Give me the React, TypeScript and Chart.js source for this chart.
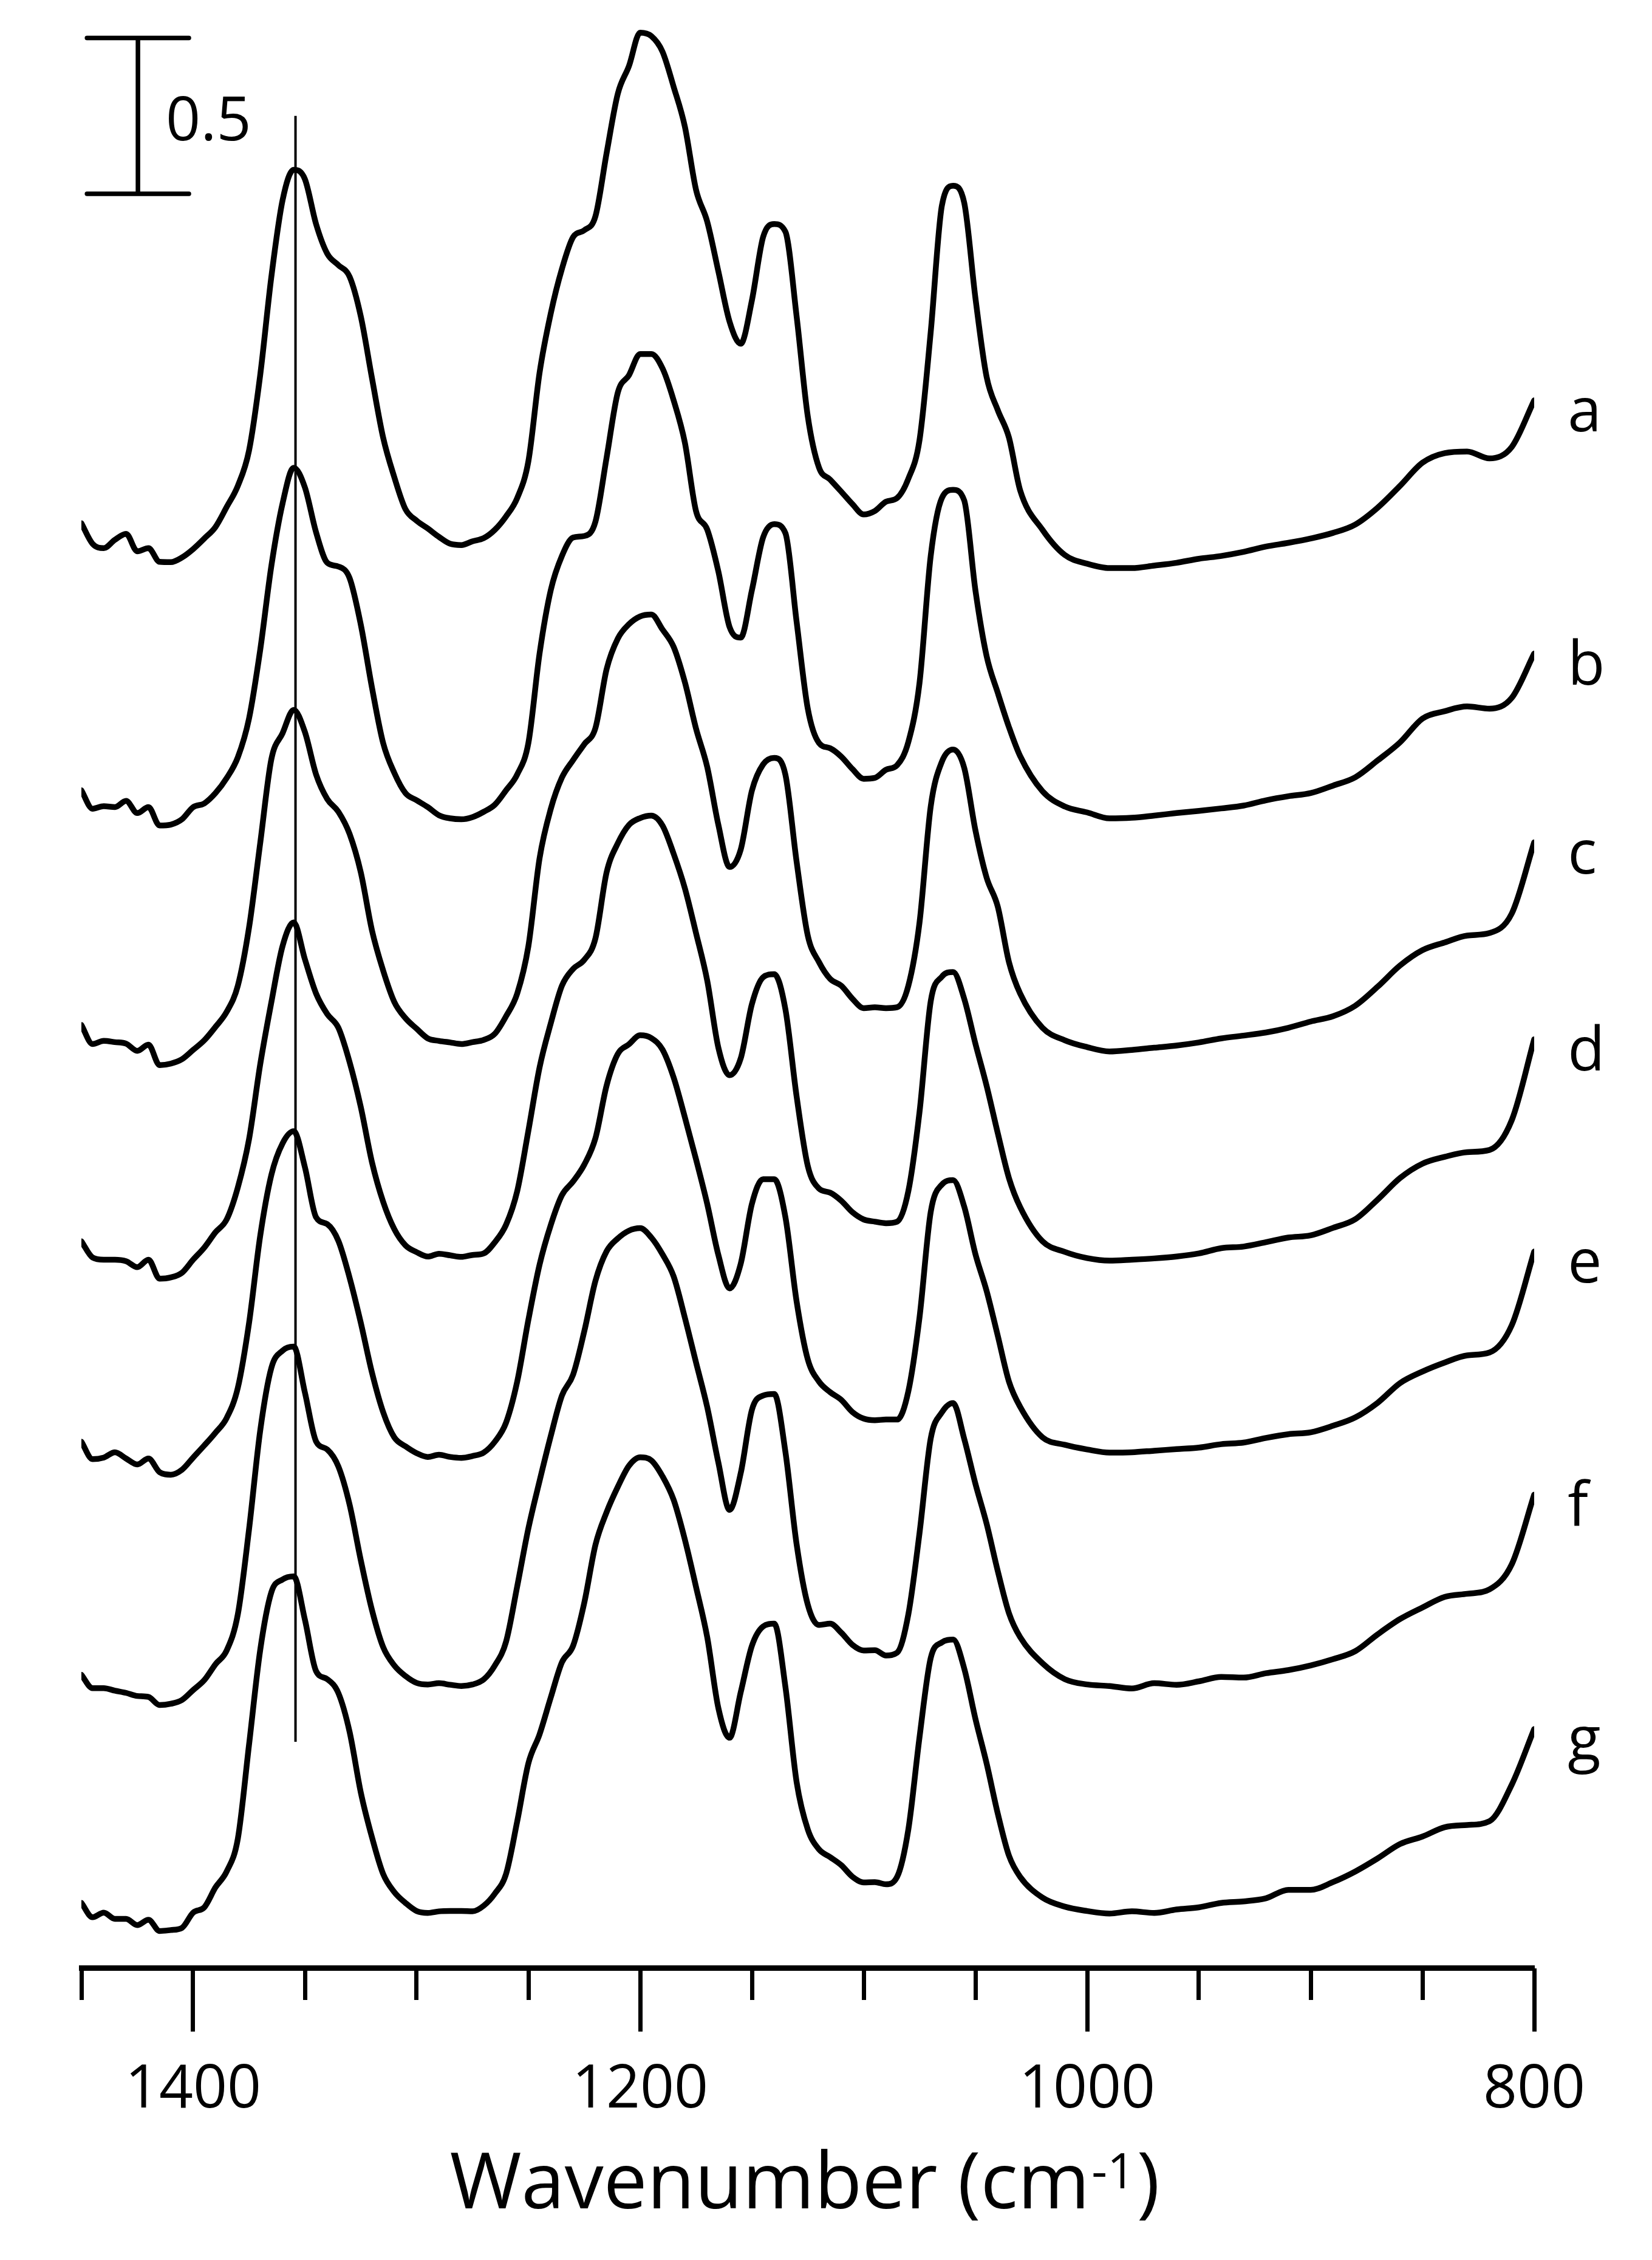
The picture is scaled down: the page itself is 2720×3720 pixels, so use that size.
import { useEffect, useRef } from "react";
import { Chart, registerables } from "chart.js";

Chart.register(...registerables);

const FONT = "'Open Sans', 'Noto Sans', sans-serif";

// Wavenumber grid (cm^-1)
const WAVENUMBERS = [
  1450, 1445, 1440, 1435, 1430, 1425, 1420, 1415, 1410, 1405,
  1400, 1395, 1390, 1385, 1380, 1375, 1370, 1365, 1360, 1355,
  1350, 1345, 1340, 1335, 1330, 1325, 1320, 1315, 1310, 1305,
  1300, 1295, 1290, 1285, 1280, 1275, 1270, 1265, 1260, 1255,
  1250, 1245, 1240, 1235, 1230, 1225, 1220, 1215, 1210, 1205,
  1200, 1195, 1190, 1185, 1180, 1175, 1170, 1165, 1160, 1155,
  1150, 1145, 1140, 1135, 1130, 1125, 1120, 1115, 1110, 1105,
  1100, 1095, 1090, 1085, 1080, 1075, 1070, 1065, 1060, 1055,
  1050, 1045, 1040, 1035, 1030,
  1020, 1010, 1000, 990, 980, 970, 960, 950, 940, 930,
  920, 910, 900, 890, 880, 870, 860, 850, 840, 830,
  820, 810, 800,
];

const TRACE_A = [
  0.237, 0.171, 0.157, 0.184, 0.203, 0.147, 0.157, 0.113, 0.112, 0.127,
  0.154, 0.188, 0.225, 0.289, 0.357, 0.470, 0.712, 1.028, 1.273, 1.371,
  1.341, 1.197, 1.102, 1.065, 1.028, 0.901, 0.703, 0.512, 0.385, 0.282,
  0.245, 0.220, 0.193, 0.171, 0.167, 0.179, 0.189, 0.216, 0.259, 0.318,
  0.436, 0.720, 0.910, 1.053, 1.155, 1.177, 1.222, 1.425, 1.615, 1.704,
  1.811, 1.800, 1.750, 1.637, 1.510, 1.307, 1.205, 1.045, 0.884, 0.813,
  0.952, 1.155, 1.197, 1.172, 0.901, 0.580, 0.416, 0.377, 0.338, 0.298,
  0.265, 0.276, 0.306, 0.318, 0.380, 0.504, 0.850, 1.256, 1.320, 1.265,
  0.960, 0.707, 0.600, 0.512, 0.343,
  0.216, 0.135, 0.107, 0.093, 0.093, 0.101, 0.110, 0.123, 0.132, 0.145,
  0.162, 0.174, 0.188, 0.206, 0.233, 0.287, 0.357, 0.431, 0.462, 0.467,
  0.445, 0.482, 0.631,
];

const TRACE_B = [
  0.230, 0.171, 0.179, 0.176, 0.196, 0.157, 0.176, 0.117, 0.120, 0.137,
  0.176, 0.188, 0.221, 0.269, 0.336, 0.460, 0.680, 0.950, 1.150, 1.265,
  1.202, 1.058, 0.960, 0.948, 0.911, 0.762, 0.560, 0.382, 0.286, 0.221,
  0.198, 0.176, 0.150, 0.140, 0.137, 0.144, 0.161, 0.184, 0.230, 0.281,
  0.382, 0.669, 0.872, 0.982, 1.041, 1.046, 1.092, 1.298, 1.506, 1.562,
  1.630, 1.630, 1.584, 1.481, 1.346, 1.126, 1.067, 0.932, 0.754, 0.720,
  0.872, 1.041, 1.084, 1.055, 0.771, 0.492, 0.382, 0.365, 0.338, 0.298,
  0.267, 0.270, 0.296, 0.311, 0.385, 0.575, 0.982, 1.168, 1.194, 1.160,
  0.872, 0.661, 0.543, 0.433, 0.340,
  0.227, 0.178, 0.159, 0.140, 0.142, 0.149, 0.157, 0.164, 0.172, 0.181,
  0.198, 0.211, 0.221, 0.245, 0.272, 0.326, 0.384, 0.460, 0.484, 0.499,
  0.492, 0.527, 0.669,
];

const TRACE_C = [
  0.227, 0.166, 0.176, 0.172, 0.167, 0.144, 0.164, 0.098, 0.103, 0.117,
  0.147, 0.178, 0.221, 0.269, 0.353, 0.539, 0.810, 1.080, 1.163, 1.238,
  1.167, 1.031, 0.952, 0.911, 0.840, 0.717, 0.531, 0.402, 0.301, 0.249,
  0.215, 0.184, 0.176, 0.171, 0.166, 0.172, 0.179, 0.199, 0.255, 0.328,
  0.480, 0.762, 0.920, 1.021, 1.077, 1.128, 1.180, 1.369, 1.467, 1.513,
  1.538, 1.544, 1.496, 1.440, 1.327, 1.178, 1.055, 0.869, 0.734, 0.790,
  0.979, 1.063, 1.084, 1.030, 0.751, 0.514, 0.429, 0.375, 0.353, 0.311,
  0.281, 0.284, 0.281, 0.284, 0.353, 0.556, 0.928, 1.072, 1.111, 1.052,
  0.852, 0.700, 0.607, 0.429, 0.328,
  0.218, 0.178, 0.156, 0.142, 0.147, 0.154, 0.161, 0.171, 0.184, 0.193,
  0.203, 0.218, 0.238, 0.255, 0.289, 0.350, 0.418, 0.467, 0.492, 0.514,
  0.522, 0.585, 0.813,
];

const TRACE_D = [
  0.233, 0.181, 0.174, 0.174, 0.169, 0.150, 0.174, 0.113, 0.117, 0.132,
  0.174, 0.213, 0.262, 0.303, 0.406, 0.560, 0.800, 1.000, 1.180, 1.256,
  1.138, 1.028, 0.962, 0.918, 0.808, 0.664, 0.487, 0.360, 0.272, 0.220,
  0.198, 0.184, 0.193, 0.188, 0.183, 0.189, 0.194, 0.230, 0.286, 0.394,
  0.588, 0.791, 0.932, 1.053, 1.107, 1.136, 1.205, 1.417, 1.510, 1.569,
  1.591, 1.599, 1.567, 1.476, 1.366, 1.222, 1.070, 0.854, 0.766, 0.820,
  0.994, 1.080, 1.090, 0.977, 0.698, 0.475, 0.402, 0.389, 0.363, 0.326,
  0.303, 0.296, 0.291, 0.296, 0.394, 0.648, 1.003, 1.082, 1.097, 1.011,
  0.867, 0.732, 0.580, 0.436, 0.343,
  0.233, 0.199, 0.179, 0.171, 0.174, 0.178, 0.184, 0.194, 0.211, 0.216,
  0.230, 0.245, 0.252, 0.276, 0.304, 0.367, 0.436, 0.482, 0.504, 0.519,
  0.526, 0.622, 0.881,
];

const TRACE_E = [
  0.240, 0.184, 0.189, 0.206, 0.186, 0.167, 0.186, 0.142, 0.134, 0.150,
  0.189, 0.228, 0.269, 0.316, 0.413, 0.620, 0.900, 1.096, 1.197, 1.236,
  1.121, 0.960, 0.938, 0.884, 0.766, 0.622, 0.462, 0.335, 0.254, 0.225,
  0.203, 0.191, 0.198, 0.191, 0.188, 0.194, 0.205, 0.240, 0.301, 0.433,
  0.631, 0.808, 0.935, 1.031, 1.075, 1.129, 1.214, 1.383, 1.484, 1.515,
  1.544, 1.535, 1.498, 1.408, 1.281, 1.146, 1.003, 0.839, 0.732, 0.811,
  1.003, 1.082, 1.082, 0.960, 0.690, 0.504, 0.433, 0.399, 0.374, 0.335,
  0.314, 0.309, 0.311, 0.311, 0.402, 0.639, 0.977, 1.065, 1.079, 0.994,
  0.842, 0.724, 0.580, 0.433, 0.352,
  0.254, 0.230, 0.215, 0.205, 0.206, 0.211, 0.216, 0.221, 0.232, 0.237,
  0.252, 0.264, 0.270, 0.291, 0.318, 0.365, 0.428, 0.465, 0.494, 0.517,
  0.526, 0.614, 0.850,
];

const TRACE_F = [
  0.242, 0.199, 0.199, 0.191, 0.184, 0.174, 0.171, 0.145, 0.149, 0.161,
  0.193, 0.225, 0.276, 0.320, 0.436, 0.708, 1.025, 1.227, 1.282, 1.295,
  1.148, 0.991, 0.965, 0.910, 0.788, 0.610, 0.450, 0.331, 0.272, 0.238,
  0.216, 0.211, 0.215, 0.210, 0.206, 0.211, 0.227, 0.272, 0.348, 0.526,
  0.712, 0.864, 1.008, 1.138, 1.205, 1.344, 1.506, 1.601, 1.642, 1.667,
  1.675, 1.645, 1.591, 1.520, 1.388, 1.244, 1.101, 0.923, 0.771, 0.889,
  1.092, 1.138, 1.143, 0.957, 0.661, 0.467, 0.402, 0.406, 0.377, 0.338,
  0.320, 0.321, 0.304, 0.313, 0.436, 0.697, 1.000, 1.084, 1.114, 0.999,
  0.855, 0.727, 0.575, 0.440, 0.363,
  0.279, 0.228, 0.211, 0.206, 0.198, 0.215, 0.210, 0.221, 0.235, 0.233,
  0.247, 0.257, 0.272, 0.292, 0.318, 0.372, 0.421, 0.458, 0.492, 0.502,
  0.516, 0.597, 0.820,
];

const TRACE_G = [
  0.210, 0.164, 0.179, 0.159, 0.159, 0.139, 0.156, 0.120, 0.123, 0.130,
  0.179, 0.196, 0.260, 0.311, 0.416, 0.717, 1.021, 1.207, 1.248, 1.258,
  1.119, 0.954, 0.928, 0.883, 0.759, 0.565, 0.421, 0.303, 0.245, 0.210,
  0.184, 0.178, 0.183, 0.184, 0.184, 0.183, 0.201, 0.240, 0.303, 0.472,
  0.658, 0.751, 0.869, 0.982, 1.035, 1.173, 1.359, 1.464, 1.545, 1.613,
  1.640, 1.630, 1.579, 1.503, 1.376, 1.224, 1.063, 0.835, 0.740, 0.886,
  1.035, 1.097, 1.106, 0.903, 0.598, 0.446, 0.382, 0.357, 0.331, 0.294,
  0.276, 0.277, 0.270, 0.294, 0.446, 0.742, 0.996, 1.046, 1.055, 0.962,
  0.801, 0.658, 0.497, 0.362, 0.294,
  0.227, 0.198, 0.184, 0.176, 0.183, 0.178, 0.189, 0.196, 0.210, 0.215,
  0.225, 0.252, 0.252, 0.277, 0.311, 0.353, 0.399, 0.423, 0.453, 0.460,
  0.472, 0.590, 0.768,
];

const TRACES = [TRACE_A, TRACE_B, TRACE_C, TRACE_D, TRACE_E, TRACE_F, TRACE_G];
const TRACE_LABELS = ["a", "b", "c", "d", "e", "f", "g"];
const TRACE_OFFSETS = [4.4, 3.55, 2.8, 2.1, 1.45, 0.7, 0.0];

const MAJOR_TICKS = [1400, 1200, 1000, 800];
const MINOR_TICKS = [1450, 1400, 1350, 1300, 1250, 1200, 1150, 1100, 1050, 1000, 950, 900, 850, 800];

const PEAK_LINE = 1354.2;
const PEAK_LINE_FROM = 0.727;
const PEAK_LINE_TO = 5.944;

const SCALE_BAR = 0.5;
const SCALE_BAR_X = 1424.7;
const SCALE_BAR_BOTTOM = 5.694;
const SCALE_BAR_HALF = 22.8;

const LABEL_X = 785;
const LABEL_DROP = 0.1;

// y range: 513 px per absorbance unit, value 0 on the axis line
const Y_MIN = -0.9357;
const Y_MAX = 6.3158;

const overlayPlugin = {
  id: "overlayText",
  afterDatasetsDraw(chart: any) {
    const { ctx, chartArea, scales } = chart;
    const x = scales.x;
    const y = scales.y;
    ctx.save();
    ctx.fillStyle = "#000";
    ctx.textAlign = "left";
    ctx.textBaseline = "alphabetic";

    ctx.font = `100px ${FONT}`;
    TRACES.forEach((vals, i) => {
      const end = vals[vals.length - 1] + TRACE_OFFSETS[i];
      ctx.fillText(TRACE_LABELS[i], x.getPixelForValue(LABEL_X), y.getPixelForValue(end - LABEL_DROP));
    });

    ctx.font = `100px ${FONT}`;
    ctx.fillText(
      String(SCALE_BAR),
      x.getPixelForValue(SCALE_BAR_X) + 46,
      y.getPixelForValue(SCALE_BAR_BOTTOM + SCALE_BAR / 2) + 40
    );

    const base = y.getPixelForValue(0) + 395;
    const main = "Wavenumber (cm";
    const sup = "-1";
    const close = ")";
    ctx.font = `128px ${FONT}`;
    const wMain = ctx.measureText(main).width;
    const wClose = ctx.measureText(close).width;
    ctx.font = `80px ${FONT}`;
    const wSup = ctx.measureText(sup).width;
    const total = wMain + wSup + wClose + 6;
    let cx = (chartArea.left + chartArea.right) / 2 - 5 - total / 2;
    ctx.font = `128px ${FONT}`;
    ctx.fillText(main, cx, base);
    cx += wMain + 3;
    ctx.font = `80px ${FONT}`;
    ctx.fillText(sup, cx, base - 33);
    cx += wSup + 3;
    ctx.font = `128px ${FONT}`;
    ctx.fillText(close, cx, base);
    ctx.restore();
  },
};

export default function App() {
  const canvasRef = useRef<HTMLCanvasElement | null>(null);

  useEffect(() => {
    document.body.style.margin = "0";
    document.documentElement.style.overflow = "hidden";
    document.body.style.overflow = "hidden";
    Chart.defaults.font.family = FONT;
    Chart.defaults.color = "#000";

    const spectra = TRACES.map((vals, i) => ({
      label: TRACE_LABELS[i],
      data: WAVENUMBERS.map((w, j) => ({ x: w, y: vals[j] + TRACE_OFFSETS[i] })),
      borderColor: "#000",
      borderWidth: 9.5,
      pointRadius: 0,
      fill: false,
      cubicInterpolationMode: "monotone" as const,
      borderJoinStyle: "round" as const,
      borderCapStyle: "round" as const,
    }));

    const peakLine = {
      label: "peak",
      data: [
        { x: PEAK_LINE, y: PEAK_LINE_FROM },
        { x: PEAK_LINE, y: PEAK_LINE_TO },
      ],
      borderColor: "#000",
      borderWidth: 4,
      pointRadius: 0,
      tension: 0,
      fill: false,
    };

    const top = SCALE_BAR_BOTTOM + SCALE_BAR;
    const scaleBar = {
      label: "scale",
      data: [
        { x: SCALE_BAR_X + SCALE_BAR_HALF, y: top },
        { x: SCALE_BAR_X - SCALE_BAR_HALF, y: top },
        { x: SCALE_BAR_X, y: null },
        { x: SCALE_BAR_X, y: top },
        { x: SCALE_BAR_X, y: SCALE_BAR_BOTTOM },
        { x: SCALE_BAR_X, y: null },
        { x: SCALE_BAR_X + SCALE_BAR_HALF, y: SCALE_BAR_BOTTOM },
        { x: SCALE_BAR_X - SCALE_BAR_HALF, y: SCALE_BAR_BOTTOM },
      ],
      borderColor: "#000",
      borderWidth: 7.5,
      pointRadius: 0,
      tension: 0,
      spanGaps: false,
      fill: false,
      borderCapStyle: "round" as const,
    };

    const chart = new Chart(canvasRef.current as HTMLCanvasElement, {
      type: "line",
      data: { datasets: [...spectra, peakLine, scaleBar] as any },
      options: {
        animation: false,
        responsive: true,
        maintainAspectRatio: false,
        devicePixelRatio: 1,
        events: [],
        layout: { padding: { left: 134, right: 194, top: 0, bottom: 0 }, autoPadding: false },
        plugins: { legend: { display: false }, tooltip: { enabled: false }, title: { display: false } },
        scales: {
          x: {
            type: "linear",
            axis: "x",
            min: 800,
            max: 1450,
            reverse: true,
            position: { y: 0 } as any,
            afterBuildTicks: (s: any) => {
              s.ticks = MAJOR_TICKS.map((v) => ({ value: v }));
            },
            ticks: {
              autoSkip: false,
              maxRotation: 0,
              padding: 42,
              color: "#000",
              font: { size: 98, family: FONT },
              callback: (v: any) => String(v),
            },
            grid: {
              drawOnChartArea: false,
              drawTicks: true,
              tickLength: 100,
              tickWidth: 7,
              tickColor: "#000",
              color: "#000",
            },
            border: { display: true, width: 9, color: "#000" },
          },
          x2: {
            type: "linear",
            axis: "x",
            min: 800,
            max: 1450,
            reverse: true,
            position: { y: 0 } as any,
            afterBuildTicks: (s: any) => {
              s.ticks = MINOR_TICKS.map((v) => ({ value: v }));
            },
            ticks: { display: false },
            grid: {
              drawOnChartArea: false,
              drawTicks: true,
              tickLength: 52,
              tickWidth: 7,
              tickColor: "#000",
              color: "#000",
            },
            border: { display: false },
          },
          y: { type: "linear", display: false, min: Y_MIN, max: Y_MAX },
        },
      } as any,
      plugins: [overlayPlugin],
    });

    return () => chart.destroy();
  }, []);

  return (
    <div style={{ width: 2720, height: 3720, position: "relative", background: "#fff" }}>
      <canvas ref={canvasRef} />
    </div>
  );
}
